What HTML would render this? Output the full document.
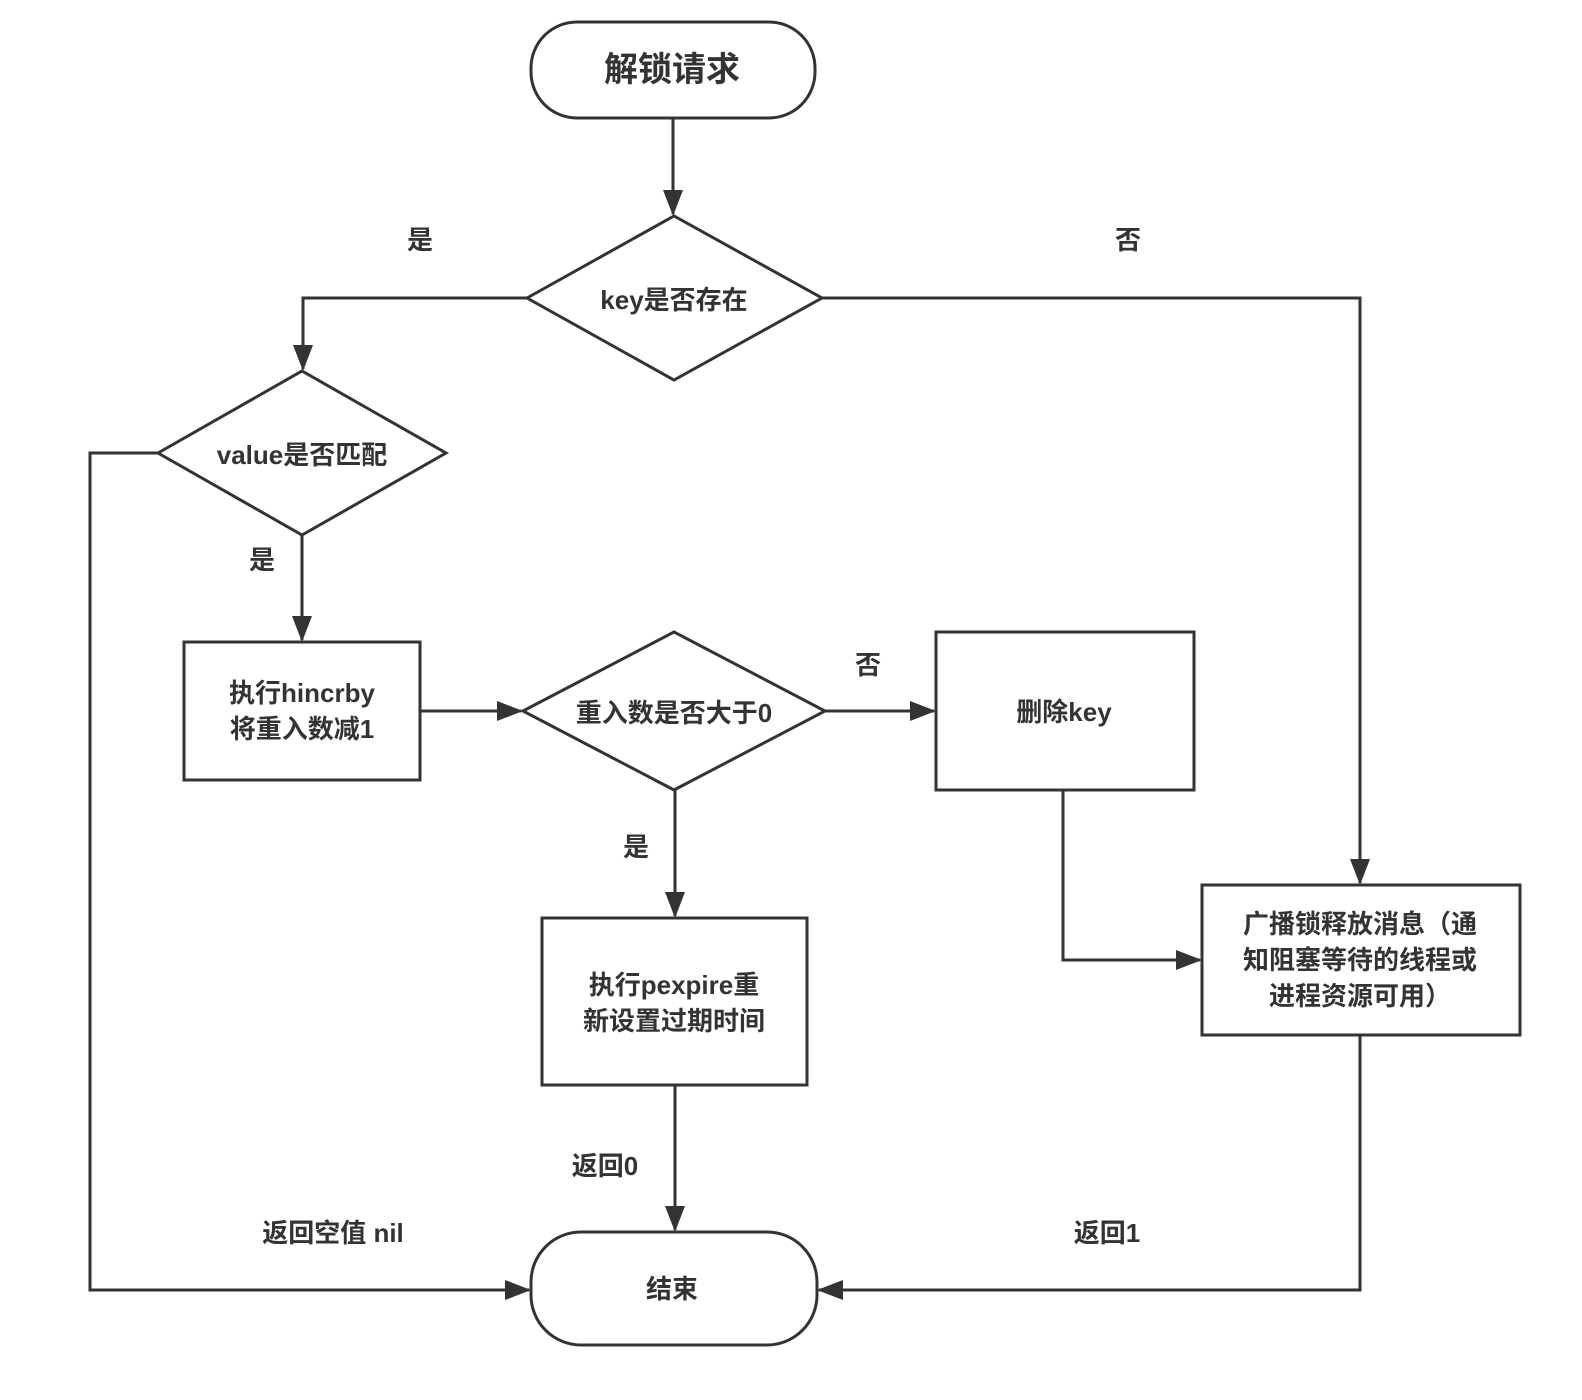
<!DOCTYPE html>
<html><head><meta charset="utf-8"><style>
html,body{margin:0;padding:0;background:#fff;}
svg{display:block;}
text{font-family:"Liberation Sans","Noto Sans CJK SC",sans-serif;font-weight:bold;fill:#333;text-anchor:middle;dominant-baseline:central;}
</style></head><body>
<svg width="1582" height="1400" viewBox="0 0 1582 1400" xmlns="http://www.w3.org/2000/svg">
<defs><marker id="a" markerWidth="12" markerHeight="12" refX="11" refY="6" orient="auto" markerUnits="userSpaceOnUse" viewBox="0 0 12 12"><path d="M0,0 L12,6 L0,12 z" fill="#333"/></marker>
<marker id="b" markerWidth="26" markerHeight="26" refX="24" refY="10" orient="auto" markerUnits="userSpaceOnUse" viewBox="0 0 26 20"><path d="M0,0 L26,10 L0,20 z" fill="#333"/></marker></defs>
<g fill="none" stroke="#333" stroke-width="3">
<rect x="531" y="22" width="284" height="96" rx="46"/>
<polygon points="527,298 674,216 822,298 674,380" fill="#fff"/>
<polygon points="158,453 302,371 446,453 302,535" fill="#fff"/>
<rect x="184" y="642" width="236" height="138"/>
<polygon points="523,711 674,632 825,711 674,790" fill="#fff"/>
<rect x="936" y="632" width="258" height="158"/>
<rect x="542" y="918" width="265" height="167"/>
<rect x="1202" y="885" width="318" height="150"/>
<rect x="531" y="1232" width="286" height="113" rx="50"/>
<path d="M673,118 V214" marker-end="url(#b)"/>
<path d="M527,298 H303 V369" marker-end="url(#b)"/>
<path d="M822,298 H1360 V883" marker-end="url(#b)"/>
<path d="M158,453 H90 V1290 H529" marker-end="url(#b)"/>
<path d="M302,535 V640" marker-end="url(#b)"/>
<path d="M420,711 H521" marker-end="url(#b)"/>
<path d="M825,711 H934" marker-end="url(#b)"/>
<path d="M1063,790 V960 H1200" marker-end="url(#b)"/>
<path d="M675,790 V916" marker-end="url(#b)"/>
<path d="M675,1085 V1230" marker-end="url(#b)"/>
<path d="M1360,1035 V1290 H819" marker-end="url(#b)"/>
</g>
<text x="672" y="70" font-size="34">解锁请求</text>
<text x="674" y="300" font-size="26">key是否存在</text>
<text x="302" y="455" font-size="26">value是否匹配</text>
<text x="302" y="693" font-size="26">执行hincrby</text>
<text x="302" y="729" font-size="26">将重入数减1</text>
<text x="674" y="713" font-size="26">重入数是否大于0</text>
<text x="1064" y="712" font-size="26">删除key</text>
<text x="674" y="985" font-size="26">执行pexpire重</text>
<text x="674" y="1021" font-size="26">新设置过期时间</text>
<text x="1360" y="924" font-size="26">广播锁释放消息（通</text>
<text x="1360" y="960" font-size="26">知阻塞等待的线程或</text>
<text x="1360" y="996" font-size="26">进程资源可用）</text>
<text x="672" y="1289" font-size="26">结束</text>
<text x="420" y="240" font-size="26">是</text>
<text x="1128" y="240" font-size="26">否</text>
<text x="262" y="560" font-size="26">是</text>
<text x="868" y="665" font-size="26">否</text>
<text x="636" y="847" font-size="26">是</text>
<text x="605" y="1166" font-size="26">返回0</text>
<text x="333" y="1233" font-size="26">返回空值 nil</text>
<text x="1107" y="1233" font-size="26">返回1</text>
</svg>
</body></html>
